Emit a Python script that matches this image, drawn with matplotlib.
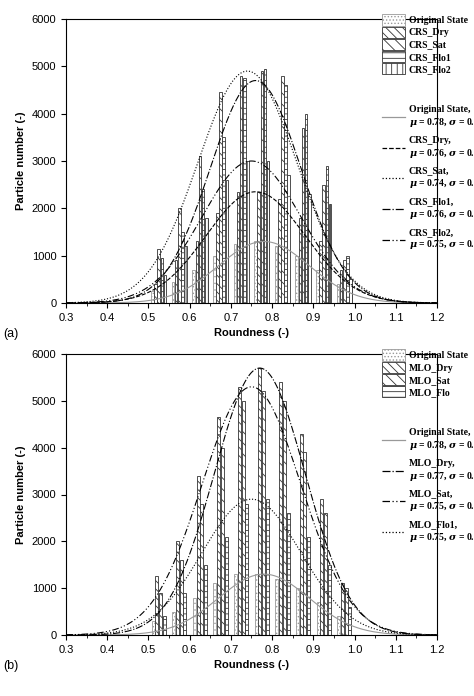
import numpy as np
import matplotlib
matplotlib.use("Agg")
import matplotlib.pyplot as plt
from matplotlib.patches import Patch
from matplotlib.lines import Line2D

plt.rcParams['font.family'] = ['Liberation Sans', 'DejaVu Sans']
plt.rcParams['font.weight'] = 'bold'
plt.rcParams['hatch.linewidth'] = 0.6
plt.rcParams['mathtext.fontset'] = 'dejavuserif'

bins = [0.525, 0.575, 0.625, 0.675, 0.725, 0.775, 0.825, 0.875, 0.925, 0.975]
a_names = ["Original State", "CRS_Dry", "CRS_Sat", "CRS_Flo1", "CRS_Flo2"]
a_vals = [
    [250, 450, 700, 1000, 1250, 1300, 1200, 1000, 700, 400],
    [400, 900, 1300, 1900, 2350, 2350, 2200, 1800, 1300, 700],
    [1150, 2000, 3100, 4450, 4800, 4900, 4800, 3700, 2500, 900],
    [950, 1500, 2400, 3500, 4750, 4950, 4600, 4000, 2900, 1000],
    [600, 1200, 1800, 2600, 3000, 3000, 2700, 2300, 2100, 500],
]
a_mu = [0.78, 0.76, 0.74, 0.76, 0.75]
a_sig = [0.11, 0.12, 0.12, 0.11, 0.12]
a_peak = [1300, 2350, 4900, 4700, 3000]

b_names = ["Original State", "MLO_Dry", "MLO_Sat", "MLO_Flo"]
b_line_names = ["Original State", "MLO_Dry", "MLO_Sat", "MLO_Flo1"]
b_vals = [
    [300, 500, 800, 1100, 1300, 1300, 1200, 1000, 700, 400],
    [1250, 2000, 3400, 4650, 5300, 5700, 5400, 4300, 2900, 1100],
    [900, 1600, 2800, 4000, 5000, 5200, 5000, 3900, 2600, 1000],
    [400, 900, 1500, 2100, 2800, 2900, 2600, 2100, 1500, 600],
]
b_mu = [0.78, 0.77, 0.75, 0.75]
b_sig = [0.11, 0.11, 0.12, 0.12]
b_peak = [1300, 5700, 5300, 2900]

hatches_a = ['.....', '\\\\\\\\', '\\\\\\', '---', '|||']
hatches_b = ['.....', '\\\\\\\\', '\\\\\\', '---']
styles_a = [('-', '#999999'), ('--', 'k'), (':', 'k'), ('-.', 'k'), ((0, (6, 2, 1, 2, 1, 2)), 'k')]
styles_b = [('-', '#999999'), ('-.', 'k'), ((0, (6, 2, 1, 2, 1, 2)), 'k'), (':', 'k')]

fig = plt.figure(figsize=(4.74, 6.96), dpi=100)
W, H = 474, 696
axa = fig.add_axes([66/W, 1-303/H, 371/W, 284/H])
axb = fig.add_axes([66/W, 1-635/H, 371/W, 281/H])
SERIF = ['Liberation Serif', 'DejaVu Serif']

def panel(ax, names, line_names, vals, mu, sig, peak, hatches, styles, lab, ytop):
    n = len(names)
    w = 0.05 / (n + 1.5)
    x = np.array(bins)
    for i in range(n):
        ec = '#999999' if i == 0 else '#333333'
        ax.bar(x + (i - (n - 1) / 2) * w, vals[i], width=w * 0.8, facecolor='white',
               edgecolor=ec, hatch=hatches[i], linewidth=0.6)
    xs = np.linspace(0.3, 1.2, 400)
    for i in range(n):
        ls, c = styles[i]
        ax.plot(xs, peak[i] * np.exp(-0.5 * ((xs - mu[i]) / sig[i]) ** 2), ls=ls, color=c, lw=0.8)
    ax.set_xlim(0.3, 1.2)
    ax.set_ylim(0, 6000)
    ax.set_xticks(np.arange(0.3, 1.21, 0.1))
    ax.set_xticks(np.arange(0.3, 1.21, 0.05), minor=True)
    ax.set_yticks(range(0, 6001, 1000))
    ax.tick_params(labelsize=8)
    for t in ax.get_xticklabels() + ax.get_yticklabels():
        t.set_fontweight('normal')
    ax.set_xlabel("Roundness (-)", fontsize=8, fontweight='bold')
    ax.set_ylabel("Particle number (-)", fontsize=8, fontweight='bold')
    ph = [Patch(facecolor='white', edgecolor=('#999999' if i == 0 else '#333333'), hatch=hatches[i], lw=0.6)
          for i in range(n)]
    l1 = ax.legend(ph, names, loc='upper left', bbox_to_anchor=(0.84, 1.03), frameon=False,
                   prop={'family': SERIF, 'weight': 'bold', 'size': 7}, handlelength=2.4,
                   handleheight=1.4, labelspacing=0.1, borderaxespad=0, handletextpad=0.4)
    ax.add_artist(l1)
    lh = [Line2D([], [], ls=styles[i][0], color=styles[i][1], lw=0.9) for i in range(n)]
    labels = [f"{line_names[i]},\n$\\mu$ = {mu[i]:.2f}, $\\sigma$ = {sig[i]:.2f}" for i in range(n)]
    ax.legend(lh, labels, loc='upper left', bbox_to_anchor=(0.84, ytop), frameon=False,
              prop={'family': SERIF, 'weight': 'bold', 'size': 7}, handlelength=2.4,
              labelspacing=0.7, borderaxespad=0, handletextpad=0.4)
    ax.text(-0.17, -0.12, lab, transform=ax.transAxes, fontsize=9, fontweight='normal')

panel(axa, a_names, a_names, a_vals, a_mu, a_sig, a_peak, hatches_a, styles_a, "(a)", 0.71)
panel(axb, b_names, b_line_names, b_vals, b_mu, b_sig, b_peak, hatches_b, styles_b, "(b)", 0.75)

fig.savefig("out.png", dpi=100)
